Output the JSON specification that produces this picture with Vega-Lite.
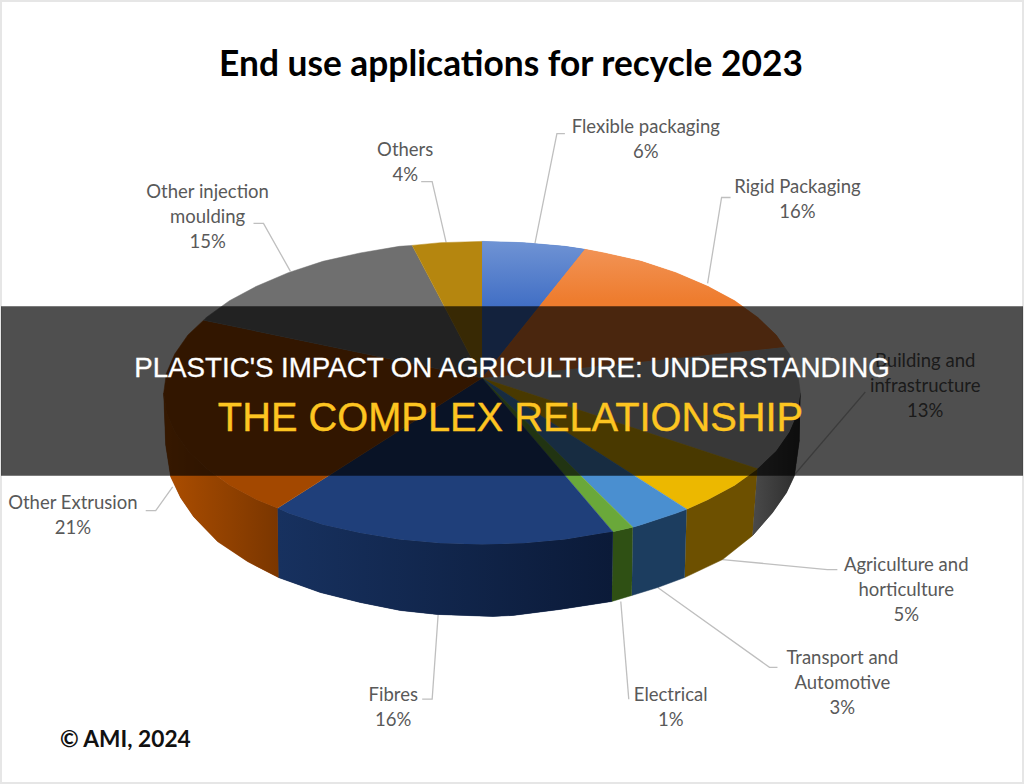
{
"$schema":"https://vega.github.io/schema/vega-lite/v6.json",
"width":1024,"height":784,"padding":0,"autosize":{"type":"fit","contains":"padding"},"background":"#ffffff",
"config":{"view":{"stroke":null}},
"datasets":{
"poly":[
{"s":"side Building","i":0,"x":801,"y":393},{"s":"side Building","i":1,"x":798.3,"y":412.8},{"s":"side Building","i":2,"x":790,"y":432},{"s":"side Building","i":3,"x":776.7,"y":451.2},{"s":"side Building","i":4,"x":758,"y":469},{"s":"side Building","i":5,"x":753,"y":536},{"s":"side Building","i":6,"x":773,"y":513},{"s":"side Building","i":7,"x":787,"y":493},{"s":"side Building","i":8,"x":795,"y":476},{"s":"side Building","i":9,"x":800,"y":440},
{"s":"side Agriculture","i":0,"x":758,"y":469},{"s":"side Agriculture","i":1,"x":735.1,"y":485.5},{"s":"side Agriculture","i":2,"x":708,"y":500},{"s":"side Agriculture","i":3,"x":687,"y":509.5},{"s":"side Agriculture","i":4,"x":685,"y":578},{"s":"side Agriculture","i":5,"x":723,"y":560},{"s":"side Agriculture","i":6,"x":753,"y":536},
{"s":"side Transport","i":0,"x":687,"y":509.5},{"s":"side Transport","i":1,"x":676.2,"y":513.6},{"s":"side Transport","i":2,"x":641.5,"y":525},{"s":"side Transport","i":3,"x":633,"y":527.5},{"s":"side Transport","i":4,"x":632,"y":596},{"s":"side Transport","i":5,"x":658,"y":588},{"s":"side Transport","i":6,"x":685,"y":578},
{"s":"side Electrical","i":0,"x":633,"y":527.5},{"s":"side Electrical","i":1,"x":613,"y":532},{"s":"side Electrical","i":2,"x":612,"y":602},{"s":"side Electrical","i":3,"x":632,"y":596},
{"s":"side Fibres","i":0,"x":613,"y":532},{"s":"side Fibres","i":1,"x":604.1,"y":533.4},{"s":"side Fibres","i":2,"x":565,"y":540},{"s":"side Fibres","i":3,"x":523.6,"y":543.7},{"s":"side Fibres","i":4,"x":482,"y":545},{"s":"side Fibres","i":5,"x":440.4,"y":543.7},{"s":"side Fibres","i":6,"x":399,"y":540},{"s":"side Fibres","i":7,"x":359.9,"y":533.4},{"s":"side Fibres","i":8,"x":322.5,"y":525},{"s":"side Fibres","i":9,"x":287.8,"y":513.6},{"s":"side Fibres","i":10,"x":277,"y":508.5},{"s":"side Fibres","i":11,"x":278,"y":578},{"s":"side Fibres","i":12,"x":320,"y":593},{"s":"side Fibres","i":13,"x":360,"y":603},{"s":"side Fibres","i":14,"x":400,"y":611},{"s":"side Fibres","i":15,"x":437,"y":615},{"s":"side Fibres","i":16,"x":493,"y":617},{"s":"side Fibres","i":17,"x":513,"y":616},{"s":"side Fibres","i":18,"x":560,"y":610},{"s":"side Fibres","i":19,"x":612,"y":602},
{"s":"side Extrusion","i":0,"x":277,"y":508.5},{"s":"side Extrusion","i":1,"x":256,"y":500},{"s":"side Extrusion","i":2,"x":228.9,"y":485.5},{"s":"side Extrusion","i":3,"x":206,"y":469},{"s":"side Extrusion","i":4,"x":187.3,"y":451.2},{"s":"side Extrusion","i":5,"x":174,"y":432},{"s":"side Extrusion","i":6,"x":165.7,"y":412.8},{"s":"side Extrusion","i":7,"x":163,"y":393},{"s":"side Extrusion","i":8,"x":165,"y":445},{"s":"side Extrusion","i":9,"x":170,"y":477},{"s":"side Extrusion","i":10,"x":180,"y":498},{"s":"side Extrusion","i":11,"x":193,"y":517},{"s":"side Extrusion","i":12,"x":217,"y":542},{"s":"side Extrusion","i":13,"x":247,"y":562},{"s":"side Extrusion","i":14,"x":278,"y":578},
{"s":"top Flexible","i":0,"x":482,"y":378},{"s":"top Flexible","i":1,"x":482,"y":241},{"s":"top Flexible","i":2,"x":523.6,"y":242.3},{"s":"top Flexible","i":3,"x":565,"y":246},{"s":"top Flexible","i":4,"x":585,"y":249},
{"s":"top Rigid","i":0,"x":482,"y":378},{"s":"top Rigid","i":1,"x":585,"y":249},{"s":"top Rigid","i":2,"x":604.1,"y":252.6},{"s":"top Rigid","i":3,"x":641.5,"y":261},{"s":"top Rigid","i":4,"x":676.2,"y":272.4},{"s":"top Rigid","i":5,"x":708,"y":286},{"s":"top Rigid","i":6,"x":735.1,"y":300.5},{"s":"top Rigid","i":7,"x":758,"y":317},{"s":"top Rigid","i":8,"x":776.7,"y":334.8},{"s":"top Rigid","i":9,"x":785,"y":347},
{"s":"top Building","i":0,"x":482,"y":378},{"s":"top Building","i":1,"x":785,"y":347},{"s":"top Building","i":2,"x":790,"y":354},{"s":"top Building","i":3,"x":798.3,"y":373.2},{"s":"top Building","i":4,"x":801,"y":393},{"s":"top Building","i":5,"x":798.3,"y":412.8},{"s":"top Building","i":6,"x":790,"y":432},{"s":"top Building","i":7,"x":776.7,"y":451.2},{"s":"top Building","i":8,"x":758,"y":469},
{"s":"top Agriculture","i":0,"x":482,"y":378},{"s":"top Agriculture","i":1,"x":758,"y":469},{"s":"top Agriculture","i":2,"x":735.1,"y":485.5},{"s":"top Agriculture","i":3,"x":708,"y":500},{"s":"top Agriculture","i":4,"x":687,"y":509.5},
{"s":"top Transport","i":0,"x":482,"y":378},{"s":"top Transport","i":1,"x":687,"y":509.5},{"s":"top Transport","i":2,"x":676.2,"y":513.6},{"s":"top Transport","i":3,"x":641.5,"y":525},{"s":"top Transport","i":4,"x":633,"y":527.5},
{"s":"top Electrical","i":0,"x":482,"y":378},{"s":"top Electrical","i":1,"x":633,"y":527.5},{"s":"top Electrical","i":2,"x":613,"y":532},
{"s":"top Fibres","i":0,"x":482,"y":378},{"s":"top Fibres","i":1,"x":613,"y":532},{"s":"top Fibres","i":2,"x":604.1,"y":533.4},{"s":"top Fibres","i":3,"x":565,"y":540},{"s":"top Fibres","i":4,"x":523.6,"y":543.7},{"s":"top Fibres","i":5,"x":482,"y":545},{"s":"top Fibres","i":6,"x":440.4,"y":543.7},{"s":"top Fibres","i":7,"x":399,"y":540},{"s":"top Fibres","i":8,"x":359.9,"y":533.4},{"s":"top Fibres","i":9,"x":322.5,"y":525},{"s":"top Fibres","i":10,"x":287.8,"y":513.6},{"s":"top Fibres","i":11,"x":277,"y":508.5},
{"s":"top Extrusion","i":0,"x":482,"y":378},{"s":"top Extrusion","i":1,"x":277,"y":508.5},{"s":"top Extrusion","i":2,"x":256,"y":500},{"s":"top Extrusion","i":3,"x":228.9,"y":485.5},{"s":"top Extrusion","i":4,"x":206,"y":469},{"s":"top Extrusion","i":5,"x":187.3,"y":451.2},{"s":"top Extrusion","i":6,"x":174,"y":432},{"s":"top Extrusion","i":7,"x":165.7,"y":412.8},{"s":"top Extrusion","i":8,"x":163,"y":393},{"s":"top Extrusion","i":9,"x":165.7,"y":373.2},{"s":"top Extrusion","i":10,"x":174,"y":354},{"s":"top Extrusion","i":11,"x":187.3,"y":334.8},{"s":"top Extrusion","i":12,"x":203,"y":320},
{"s":"top Injection","i":0,"x":482,"y":378},{"s":"top Injection","i":1,"x":203,"y":320},{"s":"top Injection","i":2,"x":206,"y":317},{"s":"top Injection","i":3,"x":228.9,"y":300.5},{"s":"top Injection","i":4,"x":256,"y":286},{"s":"top Injection","i":5,"x":287.8,"y":272.4},{"s":"top Injection","i":6,"x":322.5,"y":261},{"s":"top Injection","i":7,"x":359.9,"y":252.6},{"s":"top Injection","i":8,"x":399,"y":246},{"s":"top Injection","i":9,"x":412,"y":245},
{"s":"top Others","i":0,"x":482,"y":378},{"s":"top Others","i":1,"x":412,"y":245},{"s":"top Others","i":2,"x":440.4,"y":242.3},{"s":"top Others","i":3,"x":482,"y":241}
],
"leaders":[
{"id":"Flexible","i":0,"x":535,"y":243},{"id":"Flexible","i":1,"x":557,"y":133},{"id":"Flexible","i":2,"x":565,"y":133},
{"id":"Rigid","i":0,"x":708,"y":283},{"id":"Rigid","i":1,"x":722,"y":197},{"id":"Rigid","i":2,"x":731,"y":197},
{"id":"Others","i":0,"x":446,"y":242},{"id":"Others","i":1,"x":432,"y":181},{"id":"Others","i":2,"x":421,"y":181},
{"id":"Injection","i":0,"x":290,"y":271},{"id":"Injection","i":1,"x":263,"y":223},{"id":"Injection","i":2,"x":253,"y":223},
{"id":"Building","i":0,"x":795,"y":475},{"id":"Building","i":1,"x":866,"y":392},
{"id":"Extrusion","i":0,"x":172,"y":487},{"id":"Extrusion","i":1,"x":155,"y":511},{"id":"Extrusion","i":2,"x":145,"y":511},
{"id":"Fibres","i":0,"x":438,"y":615},{"id":"Fibres","i":1,"x":432,"y":700},{"id":"Fibres","i":2,"x":422,"y":700},
{"id":"Electrical","i":0,"x":621,"y":602},{"id":"Electrical","i":1,"x":629,"y":700},
{"id":"Transport","i":0,"x":658,"y":588},{"id":"Transport","i":1,"x":770,"y":668},{"id":"Transport","i":2,"x":778,"y":668},
{"id":"Agriculture","i":0,"x":723,"y":560},{"id":"Agriculture","i":1,"x":828,"y":570},{"id":"Agriculture","i":2,"x":838,"y":570}
],
"labels":[
{"label":"Flexible packaging\n6%","x":646,"y":126},
{"label":"Rigid Packaging\n16%","x":798,"y":186},
{"label":"Others\n4%","x":405,"y":149},
{"label":"Other injection\nmoulding\n15%","x":207,"y":191},
{"label":"Building and\ninfrastructure\n13%","x":926,"y":361},
{"label":"Agriculture and\nhorticulture\n5%","x":907,"y":565},
{"label":"Transport and\nAutomotive\n3%","x":843,"y":659},
{"label":"Electrical\n1%","x":671,"y":696},
{"label":"Fibres\n16%","x":393,"y":696},
{"label":"Other Extrusion\n21%","x":72,"y":503}
],
"banner":[{"x":0,"x2":1024,"y":306,"y2":476}],
"frame":[{"x":0,"x2":1024,"y":0,"y2":784}]
},
"data":{"name":"poly"},
"encoding":{
"x":{"field":"x","type":"quantitative","axis":null,"scale":{"domain":[0,1024],"nice":false,"zero":false}},
"y":{"field":"y","type":"quantitative","axis":null,"scale":{"domain":[784,0],"nice":false,"zero":false}}
},
"layer":[
{"data":{"name":"frame"},"mark":{"type":"rect","fill":null,"stroke":"#e6e6e6","strokeWidth":2},"encoding":{"x2":{"field":"x2"},"y2":{"field":"y2"}}},
{"data":{"name":"leaders"},"mark":{"type":"line","stroke":"#bfbfbf","strokeWidth":1.3},"encoding":{"detail":{"field":"id"},"order":{"field":"i","type":"quantitative"}}},
{"data":{"name":"poly"},"mark":{"type":"line","strokeWidth":0.5},
 "encoding":{
  "fill":{"field":"s","type":"nominal","legend":null,"scale":{"domain":["side Building","side Agriculture","side Transport","side Electrical","side Fibres","side Extrusion","top Flexible","top Rigid","top Building","top Agriculture","top Transport","top Electrical","top Fibres","top Extrusion","top Injection","top Others"],"range":["#3a3a3a","#6d5000","#1c3d5f","#2f5014","#12264c","#96440a","#4472c4","#ed7d31","#b4b4b4","#ecb800","#4a8fd0","#6aa83a","#1f3f7a","#a34800","#6f6f6f","#b5860f"]}},
  "stroke":{"field":"s","type":"nominal","legend":null,"scale":{"domain":["side Building","side Agriculture","side Transport","side Electrical","side Fibres","side Extrusion","top Flexible","top Rigid","top Building","top Agriculture","top Transport","top Electrical","top Fibres","top Extrusion","top Injection","top Others"],"range":["#3a3a3a","#6d5000","#1c3d5f","#2f5014","#12264c","#96440a","#4472c4","#ed7d31","#b4b4b4","#ecb800","#4a8fd0","#6aa83a","#1f3f7a","#a34800","#6f6f6f","#b5860f"]}},
  "order":{"field":"i","type":"quantitative"}}},
{"transform":[{"filter":"datum.s==='side Fibres'"}],"mark":{"type":"line","strokeWidth":0,"fill":{"gradient":"linear","x1":0,"y1":0,"x2":1,"y2":0,"stops":[{"offset":0,"color":"#17315f"},{"offset":1,"color":"#0b1a38"}]}},"encoding":{"order":{"field":"i","type":"quantitative"}}},
{"transform":[{"filter":"datum.s==='side Extrusion'"}],"mark":{"type":"line","strokeWidth":0,"fill":{"gradient":"linear","x1":0,"y1":0,"x2":1,"y2":0,"stops":[{"offset":0,"color":"#ad4e00"},{"offset":1,"color":"#7a3600"}]}},"encoding":{"order":{"field":"i","type":"quantitative"}}},
{"transform":[{"filter":"datum.s==='side Building'"}],"mark":{"type":"line","strokeWidth":0,"fill":{"gradient":"linear","x1":0,"y1":0,"x2":1,"y2":0,"stops":[{"offset":0,"color":"#4a4a4a"},{"offset":1,"color":"#2b2b2b"}]}},"encoding":{"order":{"field":"i","type":"quantitative"}}},
{"transform":[{"filter":"datum.s==='top Flexible'"}],"mark":{"type":"line","strokeWidth":0,"fill":{"gradient":"linear","x1":0,"y1":0,"x2":0,"y2":1,"stops":[{"offset":0,"color":"#6f93d4"},{"offset":0.5,"color":"#3f6dc4"},{"offset":1,"color":"#3f6dc4"}]}},"encoding":{"order":{"field":"i","type":"quantitative"}}},
{"transform":[{"filter":"datum.s==='top Rigid'"}],"mark":{"type":"line","strokeWidth":0,"fill":{"gradient":"linear","x1":0,"y1":0,"x2":0,"y2":1,"stops":[{"offset":0,"color":"#f29355"},{"offset":0.4,"color":"#ee7c2e"},{"offset":1,"color":"#ee7c2e"}]}},"encoding":{"order":{"field":"i","type":"quantitative"}}},
{"data":{"name":"labels"},"mark":{"type":"text","font":"Lato","fontSize":18.5,"color":"#595959","align":"center","baseline":"middle","lineBreak":"\n","lineHeight":25},"encoding":{"text":{"field":"label"}}},
{"data":{"name":"banner"},"mark":{"type":"rect","fill":"#000000","fillOpacity":0.69},"encoding":{"x2":{"field":"x2"},"y2":{"field":"y2"}}},
{"data":{"values":[{"t":"End use applications for recycle 2023","x":511,"y":64}]},"mark":{"type":"text","font":"Lato","fontWeight":"bold","fontSize":35.3,"color":"#000000","align":"center","baseline":"middle"},"encoding":{"text":{"field":"t"}}},
{"data":{"values":[{"t":"© AMI, 2024","x":59,"y":741}]},"mark":{"type":"text","font":"Lato","fontWeight":"bold","fontSize":22.7,"color":"#111111","align":"left","baseline":"middle"},"encoding":{"text":{"field":"t"}}},
{"data":{"values":[{"t":"PLASTIC'S IMPACT ON AGRICULTURE: UNDERSTANDING","x":512,"y":369}]},"mark":{"type":"text","font":"Liberation Sans","fontSize":27.7,"color":"#ffffff","stroke":"#ffffff","strokeWidth":0.3,"align":"center","baseline":"middle"},"encoding":{"text":{"field":"t"}}},
{"data":{"values":[{"t":"THE COMPLEX RELATIONSHIP","x":510.5,"y":419}]},"mark":{"type":"text","font":"Liberation Sans","fontSize":39.8,"color":"#fdc521","stroke":"#fdc521","strokeWidth":0.4,"align":"center","baseline":"middle"},"encoding":{"text":{"field":"t"}}}
]
}
